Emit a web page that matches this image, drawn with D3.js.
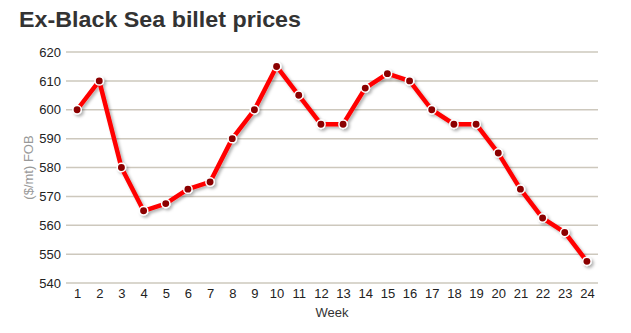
<!DOCTYPE html>
<html>
<head>
<meta charset="utf-8">
<script src="https://cdn.jsdelivr.net/npm/d3@7"></script>
<style>
  html, body { margin: 0; padding: 0; background: #fff; }
  svg { display: block; font-family: Arial, "Liberation Sans", sans-serif; }
</style>
</head>
<body>
<svg id="chart" width="631" height="333"></svg>
<script>
// Weekly ex-Black Sea billet prices, $/mt FOB
const weeks = d3.range(1, 25);
const prices = [600, 610, 580, 565, 567.5, 572.5, 575, 590, 600, 615, 605, 595,
                595, 607.5, 612.5, 610, 600, 595, 595, 585, 572.5, 562.5, 557.5, 547.5];
const yTicks = [540, 550, 560, 570, 580, 590, 600, 610, 620];

const svg = d3.select("#chart");
const plot = { left: 66, right: 598, top: 52, bottom: 283 };

const x = d3.scalePoint().domain(weeks).range([plot.left, plot.right]).padding(0.5);
const y = d3.scaleLinear().domain([540, 620]).range([plot.bottom, plot.top]);

// Drop shadow under the line and markers
const defs = svg.append("defs");
const f = defs.append("filter").attr("id", "shadow")
  .attr("x", "-10%").attr("y", "-10%").attr("width", "120%").attr("height", "130%");
f.append("feDropShadow").attr("dx", 2).attr("dy", 2).attr("stdDeviation", 1.5)
  .attr("flood-color", "#000").attr("flood-opacity", 0.3);

svg.append("text")
  .attr("x", 19).attr("y", 27)
  .attr("font-size", 22).attr("font-weight", "bold").attr("fill", "#333")
  .attr("textLength", 282).attr("lengthAdjust", "spacingAndGlyphs")
  .text("Ex-Black Sea billet prices");

// Horizontal gridlines
svg.append("g").selectAll("line").data(yTicks).join("line")
  .attr("x1", plot.left).attr("x2", plot.right)
  .attr("y1", d => y(d)).attr("y2", d => y(d))
  .attr("stroke", "#cdc8bd").attr("stroke-width", 1.5);

// Y axis labels
const yAxis = svg.append("g").attr("transform", `translate(${plot.left},0)`)
  .call(d3.axisLeft(y).tickValues(yTicks).tickSize(0).tickPadding(5));
yAxis.select(".domain").remove();
yAxis.selectAll("text").attr("font-size", 13).attr("fill", "#222")
  .attr("font-family", "Arial, 'Liberation Sans', sans-serif");

// X axis labels
const xAxis = svg.append("g").attr("transform", `translate(0,${plot.bottom})`)
  .call(d3.axisBottom(x).tickSize(0).tickPadding(6));
xAxis.select(".domain").remove();
xAxis.selectAll("text").attr("font-size", 13).attr("fill", "#222")
  .attr("font-family", "Arial, 'Liberation Sans', sans-serif");

svg.append("text")
  .attr("x", (plot.left + plot.right) / 2).attr("y", 317)
  .attr("text-anchor", "middle").attr("font-size", 13).attr("fill", "#333")
  .text("Week");

svg.append("text")
  .attr("transform", `translate(33,${(plot.top + plot.bottom) / 2}) rotate(-90)`)
  .attr("text-anchor", "middle").attr("font-size", 13).attr("fill", "#999")
  .text("($/mt) FOB");

const pts = weeks.map((w, i) => ({ w, v: prices[i] }));

const g = svg.append("g").attr("filter", "url(#shadow)");
g.append("path").datum(pts)
  .attr("d", d3.line().x(d => x(d.w)).y(d => y(d.v)))
  .attr("fill", "none").attr("stroke", "#ff0000").attr("stroke-width", 4.5)
  .attr("stroke-linejoin", "round");

g.selectAll("circle").data(pts).join("circle")
  .attr("cx", d => x(d.w)).attr("cy", d => y(d.v)).attr("r", 4.2)
  .attr("fill", "#8b0000").attr("stroke", "#fff").attr("stroke-width", 1.5);
</script>
</body>
</html>
